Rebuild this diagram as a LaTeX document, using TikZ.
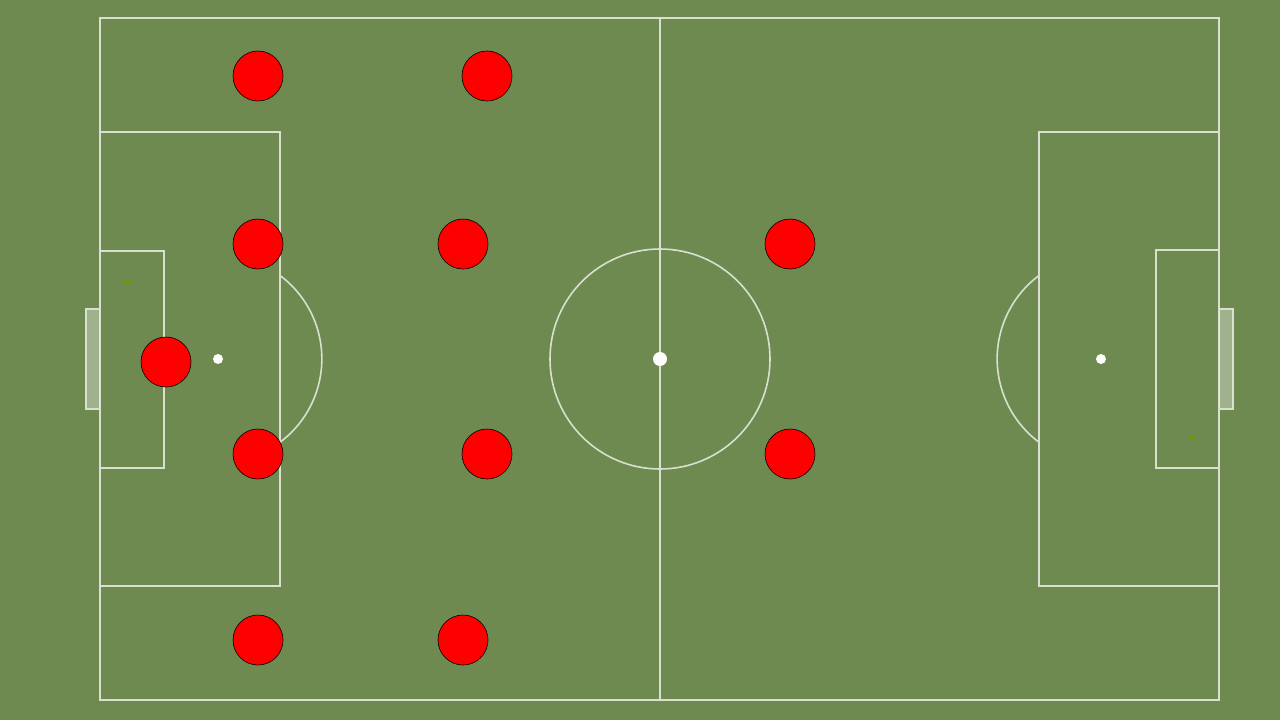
\documentclass[tikz,border=0pt]{standalone}
\usetikzlibrary{positioning}
\definecolor{grass}{HTML}{6E8A50}
\definecolor{chalk}{HTML}{D9E0CF}
\definecolor{olivemark}{HTML}{6F9410}
\tikzset{
  pitchline/.style={draw=chalk, line width=2pt},
  thinline/.style={draw=chalk, line width=1.6pt},
  goalfill/.style={fill=white, opacity=0.35},
  player/.style={circle, draw=black, line width=0.6pt, fill=red, minimum size=50pt, inner sep=0pt},
  spotdot/.style={circle, fill=white, inner sep=0pt}
}
\begin{document}
\begin{tikzpicture}[x=1pt,y=-1pt]
\fill[grass] (0,0) rectangle (1280,720);
\useasboundingbox (0,0) rectangle (1280,720);
% outer boundary and halfway line
\draw[pitchline] (100,18) rectangle (1219,700);
\draw[pitchline, line width=2.4pt] (660,18) -- (660,700);
% centre circle and spot
\draw[thinline] (660,359) circle[radius=110pt];
\node[spotdot, minimum size=14pt] (cspot) at (660,359) {};
% left penalty area, goal area, goal
\draw[pitchline] (100,132) -- (280,132) -- (280,586) -- (100,586);
\draw[pitchline] (100,251) -- (164,251) -- (164,468) -- (100,468);
\fill[goalfill] (86,309) rectangle (100,409);
\draw[pitchline] (100,309) -- (86,309) -- (86,409) -- (100,409);
\node[spotdot, minimum size=10pt] (lspot) at (218,359) {};
\draw[thinline] (280,275.5) arc[start angle=53.3, end angle=-53.3, radius=104pt];
% right penalty area, goal area, goal
\draw[pitchline] (1219,132) -- (1039,132) -- (1039,586) -- (1219,586);
\draw[pitchline] (1219,250) -- (1156,250) -- (1156,468) -- (1219,468);
\fill[goalfill] (1219,309) rectangle (1233,409);
\draw[pitchline] (1219,309) -- (1233,309) -- (1233,409) -- (1219,409);
\node[spotdot, minimum size=10pt] (rspot) at (1101,359) {};
\draw[thinline] (1039,275.5) arc[start angle=126.7, end angle=233.3, radius=104pt];
% small marks
\fill[olivemark] (124,280) rectangle (131,283.5);
\fill[olivemark] (1189,435.5) rectangle (1196,439);
% players
\node[player] (p1) at (258,76) {};
\node[player] (p2) at (487,76) {};
\node[player] (p3) at (258,244) {};
\node[player] (p4) at (463,244) {};
\node[player] (p5) at (790,244) {};
\node[player] (p6) at (166,362) {};
\node[player] (p7) at (258,454) {};
\node[player] (p8) at (487,454) {};
\node[player] (p9) at (790,454) {};
\node[player] (p10) at (258,640) {};
\node[player] (p11) at (463,640) {};
\end{tikzpicture}
\end{document}
